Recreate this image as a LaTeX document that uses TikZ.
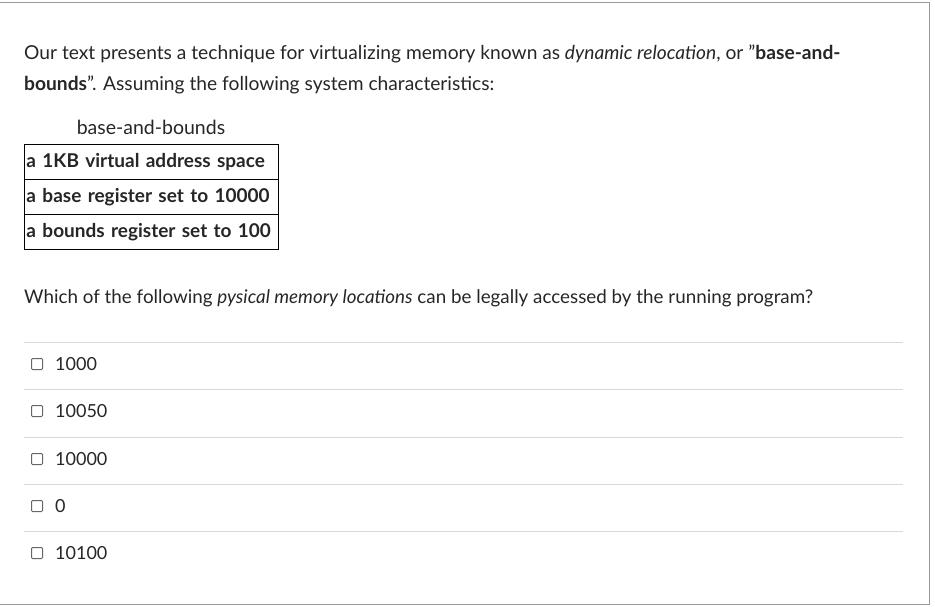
\documentclass[tikz,border=0pt]{standalone}
\usepackage{fontspec}
\setmainfont{Lato}
\begin{document}
\begin{tikzpicture}[x=1pt,y=-1pt,
  txt/.style={anchor=base west,inner sep=0pt,font=\fontsize{19.2}{22}\selectfont,text=black!85},
  cell/.style={draw=black,line width=1pt,minimum width=254pt,minimum height=35pt,anchor=north west,inner xsep=2pt,inner ysep=2pt,text width=250pt,align=left,font=\fontsize{19}{22}\selectfont\bfseries,text=black!85},
  sep/.style={draw=black!15,line width=0.8pt},
  cbox/.style={draw=black!60,line width=1pt,minimum size=11pt,inner sep=0pt,rounded corners=1pt}]
\useasboundingbox (0,0) rectangle (935,606);
\draw[black!40,line width=1pt] (0,2) -- (929,2) -- (929,604) -- (0,604);
\node[txt] (l1) at (24,59) {Our text presents a technique for virtualizing memory known as \textit{dynamic relocation}, or \symbol{"22}\textbf{base-and-}};
\node[txt] (l2) at (24,90) {\textbf{bounds}\symbol{"22}. Assuming the following system characteristics:};
\node[txt,anchor=base,font=\fontsize{19.5}{22}\selectfont] (cap) at (151,134) {base-and-bounds};
\node[cell] (r1) at (24,144) {\mbox{a 1KB virtual address space}};
\node[cell] (r2) at (24,179) {\mbox{a base register set to 10000}};
\node[cell] (r3) at (24,214) {\mbox{a bounds register set to 100}};
\node[txt,font=\fontsize{18.8}{22}\selectfont] (q) at (24,303) {Which of the following \textit{pysical memory locations} can be legally accessed by the running program?};
\foreach \y/\t [count=\i] in {364/1000,411/10050,459/10000,506/0,553/10100}{
  \draw[sep] (24,\y-22) -- (903,\y-22);
  \node[cbox] (c\i) at (37,\y) {};
  \node[txt,anchor=west,font=\fontsize{18}{22}\selectfont] (a\i) at (55,\y) {\t};
}
\end{tikzpicture}
\end{document}
